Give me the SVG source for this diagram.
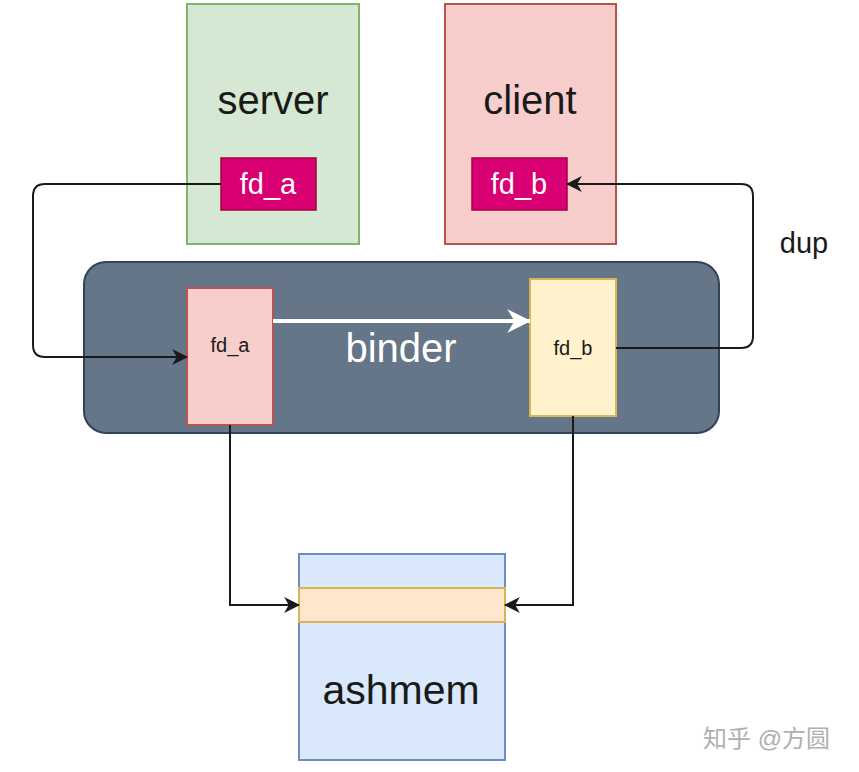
<svg xmlns="http://www.w3.org/2000/svg" width="859" height="772" viewBox="0 0 859 772">
<defs>
<style>
.t{font-family:"Liberation Sans",Arial,sans-serif;text-anchor:middle}
.c{fill:none;stroke:#1a1a1a;stroke-width:2}
</style>
<marker id="ah" viewBox="0 0 14 14" refX="13" refY="7" markerWidth="16" markerHeight="16" orient="auto" markerUnits="userSpaceOnUse">
<path d="M0,0 L14,7 L0,14 L4,7 Z" fill="#1a1a1a"/>
</marker>
<marker id="ahw" viewBox="0 0 20 20" refX="19" refY="10" markerWidth="24" markerHeight="24" orient="auto" markerUnits="userSpaceOnUse">
<path d="M0,0 L20,10 L0,20 L6,10 Z" fill="#ffffff"/>
</marker>
</defs>
<rect width="859" height="772" fill="#ffffff"/>
<g id="server">
<rect x="187" y="4" width="172" height="240" fill="#d5e8d4" stroke="#82b366" stroke-width="2"/>
<text class="t" x="273" y="114" font-size="40" fill="#1a1a1a">server</text>
</g>
<g id="server-fd_a">
<rect x="221" y="158" width="95" height="52" fill="#d80073" stroke="#a50040" stroke-width="1.5"/>
<text class="t" x="268" y="194" font-size="29" fill="#ffffff">fd_a</text>
</g>
<g id="client">
<rect x="445" y="4" width="171" height="240" fill="#f8cecc" stroke="#b85450" stroke-width="2"/>
<text class="t" x="530" y="114" font-size="40" fill="#1a1a1a">client</text>
</g>
<g id="client-fd_b">
<rect x="472" y="158" width="95" height="52" fill="#d80073" stroke="#a50040" stroke-width="1.5"/>
<text class="t" x="519" y="194" font-size="29" fill="#ffffff">fd_b</text>
</g>
<g id="binder">
<rect x="84" y="262" width="635" height="171" rx="22" fill="#647687" stroke="#314354" stroke-width="2"/>
<text class="t" x="401" y="362" font-size="40" fill="#ffffff">binder</text>
</g>
<g id="binder-fd_a">
<rect x="187" y="288" width="86" height="137" fill="#f8cecc" stroke="#b85450" stroke-width="2"/>
<text class="t" x="230" y="352" font-size="20" fill="#1a1a1a">fd_a</text>
</g>
<g id="binder-fd_b">
<rect x="530" y="279" width="86" height="137" fill="#fff2cc" stroke="#d6b656" stroke-width="2"/>
<text class="t" x="573" y="355" font-size="20" fill="#1a1a1a">fd_b</text>
</g>
<g id="ashmem">
<rect x="299" y="554" width="206" height="206" fill="#dae8fc" stroke="#6c8ebf" stroke-width="2"/>
<rect x="299" y="588" width="206" height="34" fill="#ffe6cc" stroke="#d6b656" stroke-width="2"/>
<text class="t" x="401" y="704" font-size="41" fill="#1a1a1a">ashmem</text>
</g>
<g id="connectors">
<line x1="273" y1="321" x2="530" y2="321" stroke="#ffffff" stroke-width="4" marker-end="url(#ahw)"/>
<path class="c" d="M221,184 H45 Q33,184 33,196 V345 Q33,357 45,357 H187" marker-end="url(#ah)"/>
<path class="c" d="M616,348 H741 Q753,348 753,336 V196 Q753,184 741,184 H567" marker-end="url(#ah)"/>
<path class="c" d="M230,425 V605 H299" marker-end="url(#ah)"/>
<path class="c" d="M573,416 V605 H505" marker-end="url(#ah)"/>
</g>
<text class="t" x="804" y="253" font-size="29" fill="#1a1a1a">dup</text>
<text x="703" y="747" font-size="24" fill="#b0b0b0" font-family="'Liberation Sans','Noto Sans CJK SC',sans-serif">知乎 @方圆</text>
</svg>
